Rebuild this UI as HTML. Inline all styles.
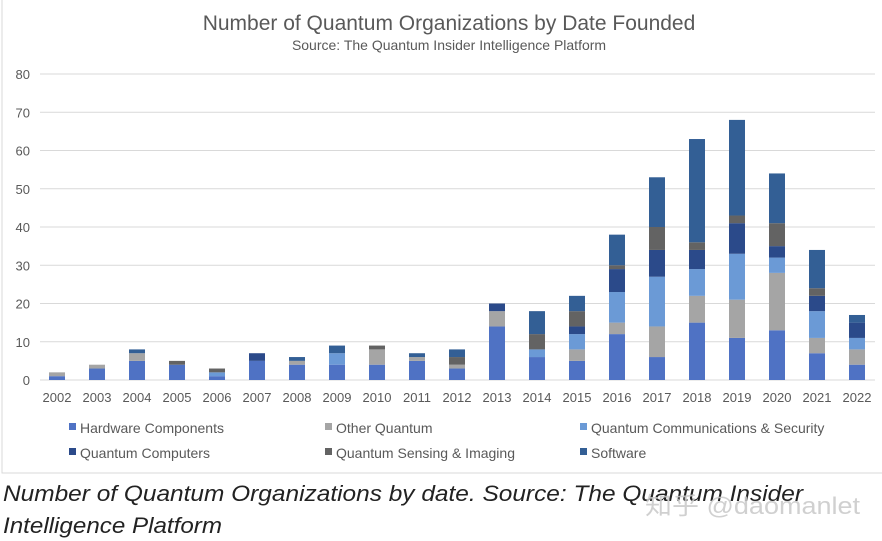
<!DOCTYPE html>
<html><head><meta charset="utf-8"><style>
body{margin:0;background:#fff;}
svg{display:block;font-family:"Liberation Sans","Noto Sans CJK SC",sans-serif;}
</style></head><body>
<svg id="chart" width="882" height="541">
<rect x="2" y="-2" width="890" height="475" fill="#fff" stroke="#d9d9d9"/>
<text x="449" y="30" text-anchor="middle" font-size="21" fill="#595959">Number of Quantum Organizations by Date Founded</text>
<text x="449" y="50" text-anchor="middle" font-size="14" fill="#595959">Source: The Quantum  Insider Intelligence Platform</text>
<g id="grid"></g><g id="bars"></g><g id="xlabels"></g><g id="legend"></g>
<text x="3" y="501" font-size="22" font-style="italic" fill="#222" textLength="800" lengthAdjust="spacingAndGlyphs">Number of Quantum Organizations by date. Source: The Quantum Insider</text>
<text x="3" y="533" font-size="22" font-style="italic" fill="#222" textLength="219" lengthAdjust="spacingAndGlyphs">Intelligence Platform</text>
<text x="645" y="514" font-size="24" fill="#c8c8c8" opacity="0.85" textLength="215" lengthAdjust="spacingAndGlyphs">知乎 @daomanlet</text>
</svg>
<script>
const years=["2002","2003","2004","2005","2006","2007","2008","2009","2010","2011","2012","2013","2014","2015","2016","2017","2018","2019","2020","2021","2022"];
const seriesNames=["Hardware Components","Other Quantum","Quantum Communications & Security","Quantum Computers","Quantum Sensing & Imaging","Software"];
const hardware=[1,3,5,4,1,5,4,4,4,5,3,14,6,5,12,6,15,11,13,7,4];
const otherQ=[1,1,2,0,0,0,1,0,4,1,1,4,0,3,3,8,7,10,15,4,4];
const commSec=[0,0,0,0,1,0,0,3,0,0,0,0,2,4,8,13,7,12,4,7,3];
const computers=[0,0,0,0,0,2,0,0,0,0,0,2,0,2,6,7,5,8,3,4,4];
const sensing=[0,0,0,1,1,0,0,0,1,0,2,0,4,4,1,6,2,2,6,2,0];
const software=[0,0,1,0,0,0,1,2,0,1,2,0,6,4,8,13,27,25,13,10,2];
const yTicks=[0,10,20,30,40,50,60,70,80];
const series=[hardware,otherQ,commSec,computers,sensing,software];
const colors=["#4f72c4","#a5a5a5","#6b9ad6","#2b4a8a","#636363","#335f95"];
const NS="http://www.w3.org/2000/svg";
const y0=380,pxPer=3.825;
const yS=v=>y0-v*pxPer;
const xS=i=>57+i*40;
function mk(tag,attrs,parent){const e=document.createElementNS(NS,tag);for(const k in attrs)e.setAttribute(k,attrs[k]);parent.appendChild(e);return e;}
const grid=document.getElementById('grid');
yTicks.forEach(t=>{
 const l=mk('line',{x1:40,x2:875,y1:yS(t),y2:yS(t),stroke:'#d9d9d9','stroke-width':1},grid);
 
 
 const tx=mk('text',{x:30,y:yS(t)+5,'text-anchor':'end','font-size':13,fill:'#595959'},grid);
 tx.textContent=t;
 
 
});
const bars=document.getElementById('bars');
years.forEach((yr,i)=>{
 let acc=0;
 series.forEach((s,k)=>{
  const v=s[i]; if(!v) return;
  const r=mk('rect',{x:xS(i)-8,y:yS(acc+v),width:16,height:v*pxPer,fill:colors[k]},bars);
  
  
  acc+=v;
 });
 const t=mk('text',{x:xS(i),y:402,'text-anchor':'middle','font-size':13,fill:'#595959'},document.getElementById('xlabels'));
 t.textContent=yr;
 
 
});
const lg=document.getElementById('legend');
const lx=[70,326,581],ly=[428,453];
seriesNames.forEach((n,k)=>{
 const x=lx[k%3],y=ly[Math.floor(k/3)];
 const g=mk('g',{},lg);
 
 
 mk('rect',{x:x-1,y:y-5,width:7,height:7,fill:colors[k]},g);
 const t=mk('text',{x:x+10,y:y+5,'font-size':14,fill:'#595959'},g);
 t.textContent=n;
});
</script>
</body></html>
